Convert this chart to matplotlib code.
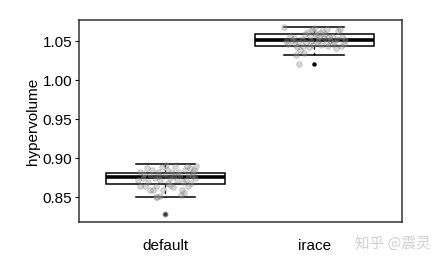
import numpy as np
import matplotlib.pyplot as plt

plt.rcParams['font.family'] = ['Liberation Sans', 'DejaVu Sans']

groups = ["default", "irace"]

# box statistics
q1 = [0.8667, 1.0440]
med = [0.8760, 1.0510]
q3 = [0.8808, 1.0586]
wlo = [0.8496, 1.0320]
whi = [0.8920, 1.0680]
outliers = [[0.8280], [1.0205]]

# jittered runs (offset from group centre, value)
default_dx = [-0.168, -0.148, -0.134, -0.168, -0.114, -0.101, -0.087, -0.067, -0.060, -0.047,
              -0.034, -0.020, -0.013, 0.000, 0.007, 0.020, 0.034, 0.047, 0.054, 0.067,
              0.081, 0.101, 0.114, 0.128, 0.134, 0.141, 0.154, 0.168, 0.174, 0.188,
              0.201, -0.121, -0.081, -0.054, -0.034, 0.034, 0.087, 0.121, 0.148, 0.181,
              -0.181, -0.141, -0.101, 0.013, 0.060, 0.154, 0.195, 0.208, 0.107, -0.040,
              -0.060, 0.000]
default_hv = [0.8821, 0.8744, 0.8641, 0.8641, 0.8692, 0.8782, 0.8846, 0.8744, 0.8641, 0.8821,
              0.8718, 0.8885, 0.8590, 0.8782, 0.8910, 0.8679, 0.8744, 0.8821, 0.8628, 0.8900,
              0.8718, 0.8782, 0.8590, 0.8551, 0.8846, 0.8718, 0.8782, 0.8872, 0.8679, 0.8821,
              0.8744, 0.8872, 0.8590, 0.8500, 0.8513, 0.8654, 0.8821, 0.8692, 0.8897, 0.8769,
              0.8718, 0.8795, 0.8590, 0.8846, 0.8769, 0.8641, 0.8846, 0.8897, 0.8526, 0.8769,
              0.8496, 0.8280]

irace_dx = [-0.201, -0.161, -0.148, -0.128, -0.174, -0.114, -0.094, -0.081, -0.060, -0.040,
            -0.027, -0.013, 0.000, 0.013, 0.027, 0.040, 0.054, 0.067, 0.081, 0.094,
            0.107, 0.121, 0.134, 0.148, 0.161, 0.174, 0.188, 0.201, 0.208, -0.188,
            -0.134, -0.107, -0.074, -0.054, -0.034, -0.007, 0.020, 0.047, 0.074, 0.101,
            0.128, 0.154, 0.181, -0.121, -0.067, -0.101, 0.034, 0.087, -0.020, 0.007]
irace_hv = [1.0680, 1.0564, 1.0513, 1.0462, 1.0462, 1.0423, 1.0385, 1.0526, 1.0590, 1.0615,
            1.0564, 1.0641, 1.0667, 1.0577, 1.0513, 1.0603, 1.0628, 1.0538, 1.0474, 1.0436,
            1.0513, 1.0564, 1.0487, 1.0410, 1.0628, 1.0654, 1.0551, 1.0462, 1.0513, 1.0500,
            1.0538, 1.0487, 1.0436, 1.0487, 1.0423, 1.0449, 1.0474, 1.0449, 1.0590, 1.0551,
            1.0462, 1.0526, 1.0436, 1.0320, 1.0346, 1.0205, 1.0551, 1.0654, 1.0500, 1.0603]

yticks = [0.85, 0.90, 0.95, 1.00, 1.05]

fig = plt.figure(figsize=(4.33, 2.61), dpi=100)
ax = fig.add_axes([0.1824, 0.1494, 0.746, 0.774])

stats = []
for i, g in enumerate(groups):
    stats.append(dict(label=g, q1=q1[i], med=med[i], q3=q3[i],
                      whislo=wlo[i], whishi=whi[i], fliers=outliers[i]))

ax.bxp(stats, positions=[1, 2], widths=0.8, patch_artist=True,
       boxprops=dict(facecolor='white', edgecolor='black', linewidth=1.1),
       medianprops=dict(color='black', linewidth=2.6),
       whiskerprops=dict(color='black', linewidth=0.9, linestyle=(0, (2.5, 2.5))),
       capprops=dict(color='black', linewidth=1.1),
       capwidths=0.4,
       flierprops=dict(marker='o', markersize=2.2, markerfacecolor='black',
                       markeredgecolor='black'),
       zorder=1)

for pos, dx, hv in [(1, default_dx, default_hv), (2, irace_dx, irace_hv)]:
    ax.scatter(pos + np.array(dx), hv, s=16, color='#999999', alpha=0.4,
               edgecolors='#555555', linewidths=0.4, zorder=3)

ax.set_xlim(0.42, 2.59)
ax.set_ylim(0.818, 1.077)
ax.set_yticks(yticks)
ax.set_yticklabels([f"{v:.2f}" for v in yticks])
ax.set_xticks([1, 2])
ax.set_xticklabels(groups)
ax.tick_params(axis='y', length=3, width=0.8, labelsize=11, pad=2)
ax.tick_params(axis='x', length=0, labelsize=11, pad=12)
ax.set_ylabel("hypervolume", fontsize=11, labelpad=2)
for s in ax.spines.values():
    s.set_color('#333333')
    s.set_linewidth(1.1)

fig.text(0.995, 0.065, "知乎 @震灵", ha='right', va='center', fontsize=10.5,
         color='#d0d0d0', family=['Noto Sans CJK SC', 'DejaVu Sans'])

fig.savefig("out.png", dpi=100)
